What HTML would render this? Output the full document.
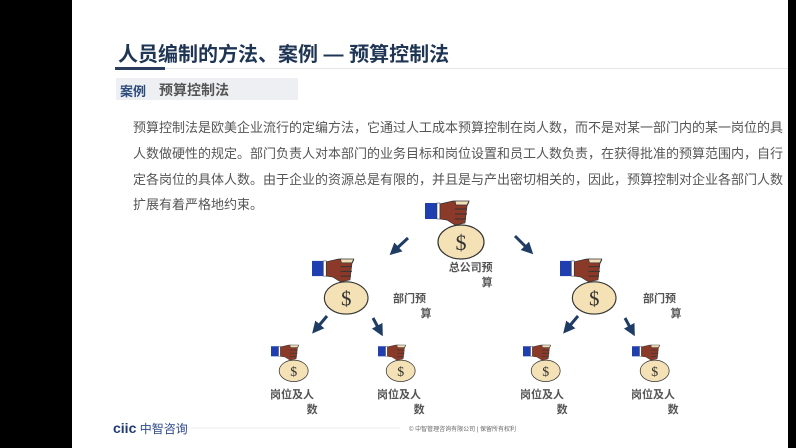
<!DOCTYPE html>
<html><head><meta charset="utf-8"><style>
body{margin:0;width:796px;height:448px;overflow:hidden;background:#fff;position:relative;font-family:"Liberation Sans","Noto Sans CJK SC",sans-serif}
.a{position:absolute;white-space:nowrap}
.t{font-size:13px;color:#555;left:133px}
.l{font-size:11px;font-weight:bold;color:#555;line-height:15px}
</style></head><body>
<div class="a" style="left:0;top:0;width:72px;height:448px;background:#000"></div>
<div class="a" style="left:788px;top:0;width:8px;height:448px;background:#000"></div>
<div class="a" style="left:118px;top:38px;font-size:20px;font-weight:bold;color:#1f3554">人员编制的方法、案例 — 预算控制法</div>
<div class="a" style="left:115px;top:68px;width:673px;height:1px;background:#e4e6ea"></div>
<div class="a" style="left:115px;top:67px;width:50px;height:3px;background:#2b3d5c"></div>
<div class="a" style="left:116px;top:78px;width:182px;height:22px;background:#eeeff2"></div>
<div class="a" style="left:120px;top:81px;font-size:13px;font-weight:bold;color:#2c4a7a">案例</div>
<div class="a" style="left:159px;top:80px;font-size:14px;font-weight:bold;color:#555">预算控制法</div>
<div class="a t" style="top:117px">预算控制法是欧美企业流行的定编方法，它通过人工成本预算控制在岗人数，而不是对某一部门内的某一岗位的具</div>
<div class="a t" style="top:143px">人数做硬性的规定。部门负责人对本部门的业务目标和岗位设置和员工人数负责，在获得批准的预算范围内，自行</div>
<div class="a t" style="top:169px">定各岗位的具体人数。由于企业的资源总是有限的，并且是与产出密切相关的，因此，预算控制对企业各部门人数</div>
<div class="a t" style="top:194px">扩展有着严格地约束。</div>
<svg class="a" style="left:0;top:0" width="796" height="448">
<defs>
<g id="bag">
<rect x="0" y="2" width="12" height="16" fill="#1f3fb0"/>
<rect x="12" y="2" width="3" height="16" fill="#fff" stroke="#333" stroke-width="0.5"/>
<path d="M15 3 L28 0 L44 1 L42 5 L40 22 L30 24 L22 19 L15 18Z" fill="#8b3a2a" stroke="#333" stroke-width="0.7"/>
<path d="M30 8h12M30 13h12M30 18h11" stroke="#333" stroke-width="1"/>
<path d="M30 0 L44 0 L42 4 L31 4Z" fill="#f1dfb8" stroke="#333" stroke-width="0.7"/>
<ellipse cx="36" cy="41" rx="23" ry="17" fill="#f4e2b6" stroke="#333" stroke-width="1.2"/>
<text x="36" y="49" font-family="Liberation Serif,serif" font-size="22" text-anchor="middle" fill="#333">$</text>
</g>
<marker id="ar" markerWidth="4" markerHeight="4" refX="2" refY="2" orient="auto"><path d="M0 0L4 2L0 4Z" fill="#1e3c64"/></marker>
</defs>
<use href="#bag" transform="translate(425,201)"/>
<use href="#bag" transform="translate(312,259) scale(0.95)"/>
<use href="#bag" transform="translate(560,259) scale(0.95)"/>
<use href="#bag" transform="translate(271,345) scale(0.63)"/>
<use href="#bag" transform="translate(378,345) scale(0.63)"/>
<use href="#bag" transform="translate(523,345) scale(0.63)"/>
<use href="#bag" transform="translate(632,345) scale(0.63)"/>
<g stroke="#1e3c64" stroke-width="3" marker-end="url(#ar)">
<line x1="408" y1="238" x2="394" y2="251"/>
<line x1="515" y1="236" x2="529" y2="250"/>
<line x1="327" y1="316" x2="316" y2="329"/>
<line x1="373" y1="318" x2="380" y2="331"/>
<line x1="578" y1="316" x2="567" y2="329"/>
<line x1="625" y1="318" x2="632" y2="331"/>
</g>
<line x1="125" y1="428" x2="400" y2="428" stroke="#eee"/>
</svg>
<div class="a l" style="left:445px;top:261px;text-align:right">总公司预<br>&nbsp;&nbsp;&nbsp;&nbsp;&nbsp;&nbsp;&nbsp;&nbsp;&nbsp;&nbsp;&nbsp;&nbsp;算</div>
<div class="a l" style="left:393px;top:292px">部门预<br>&nbsp;&nbsp;&nbsp;&nbsp;&nbsp;&nbsp;&nbsp;&nbsp;&nbsp;算</div>
<div class="a l" style="left:643px;top:292px">部门预<br>&nbsp;&nbsp;&nbsp;&nbsp;&nbsp;&nbsp;&nbsp;&nbsp;&nbsp;算</div>
<div class="a l" style="left:270px;top:388px">岗位及人<br>&nbsp;&nbsp;&nbsp;&nbsp;&nbsp;&nbsp;&nbsp;&nbsp;&nbsp;&nbsp;&nbsp;&nbsp;数</div>
<div class="a l" style="left:377px;top:388px">岗位及人<br>&nbsp;&nbsp;&nbsp;&nbsp;&nbsp;&nbsp;&nbsp;&nbsp;&nbsp;&nbsp;&nbsp;&nbsp;数</div>
<div class="a l" style="left:520px;top:388px">岗位及人<br>&nbsp;&nbsp;&nbsp;&nbsp;&nbsp;&nbsp;&nbsp;&nbsp;&nbsp;&nbsp;&nbsp;&nbsp;数</div>
<div class="a l" style="left:631px;top:388px">岗位及人<br>&nbsp;&nbsp;&nbsp;&nbsp;&nbsp;&nbsp;&nbsp;&nbsp;&nbsp;&nbsp;&nbsp;&nbsp;数</div>
<div class="a" style="left:113px;top:420px;font-size:14px;font-weight:bold;color:#1f3a7a">ciic<span style="font-weight:normal;font-size:12px;color:#2c4a8a"> 中智咨询</span></div>
<div class="a" style="left:409px;top:424px;font-size:6px;color:#666">© 中智管理咨询有限公司 | 保留所有权利</div>
</body></html>
